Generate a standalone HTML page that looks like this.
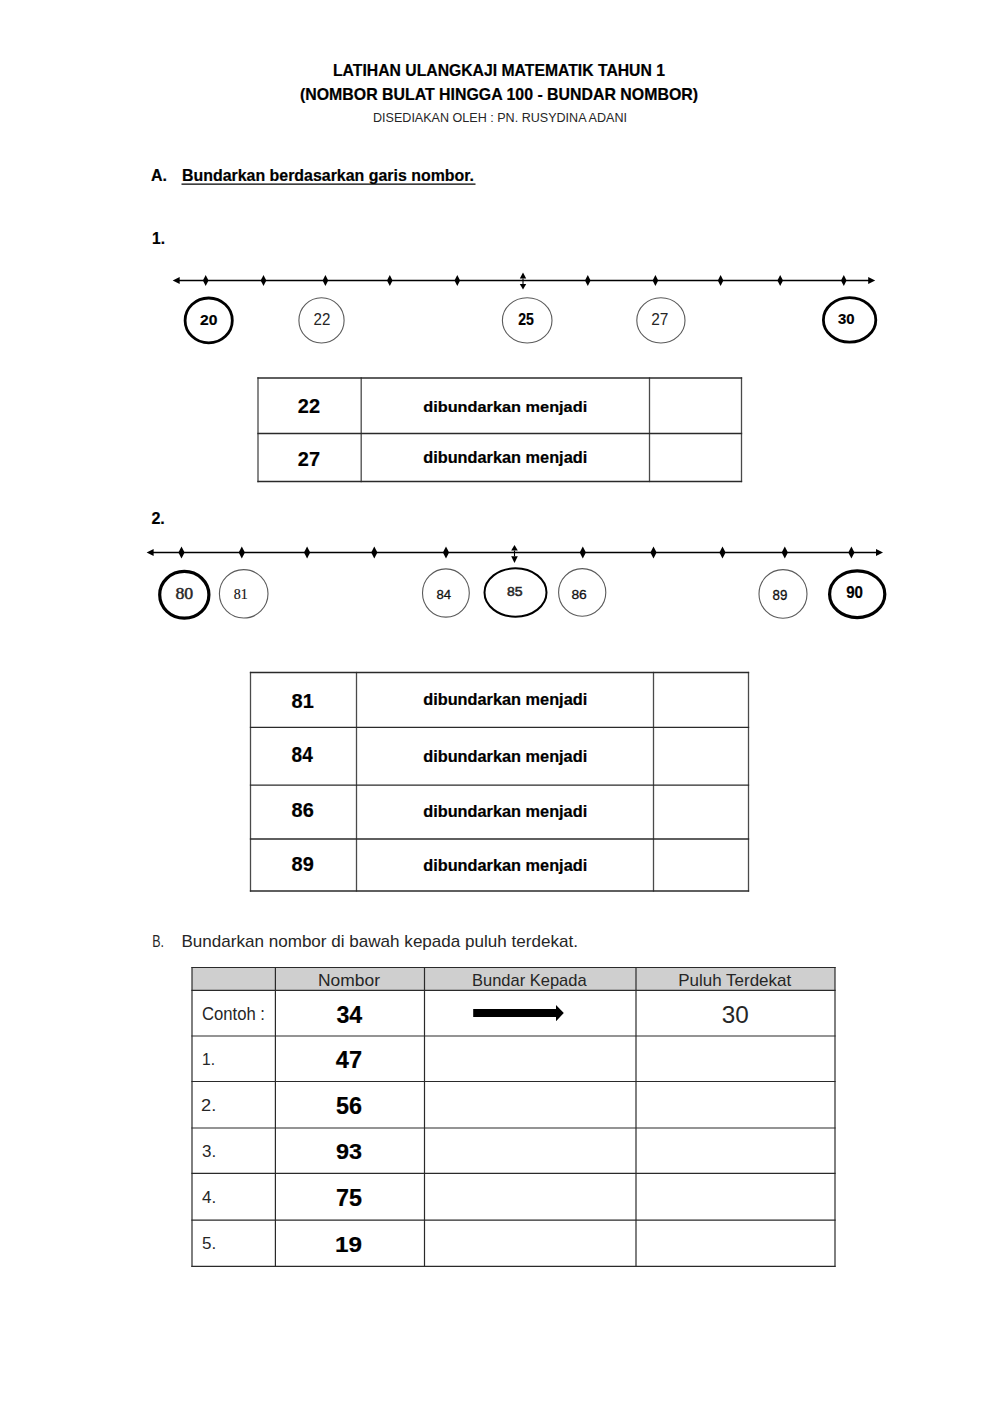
<!DOCTYPE html>
<html><head><meta charset="utf-8"><title>Latihan Ulangkaji Matematik</title>
<style>html,body{margin:0;padding:0;background:#fff;}body{width:1000px;height:1413px;overflow:hidden;font-family:"Liberation Sans",sans-serif;}svg{display:block}</style>
</head><body>
<svg width="1000" height="1413" viewBox="0 0 1000 1413">
<rect width="1000" height="1413" fill="#fff"/>
<rect x="192" y="967.5" width="643" height="22.8" fill="#cfcfcf"/>
<line x1="181.5" y1="184.2" x2="475.5" y2="184.2" stroke="#000" stroke-width="1.3"/>
<g fill="#000">
<line x1="176.7" y1="280.5" x2="871.2" y2="280.5" stroke="#000" stroke-width="1.5"/><path d="M172.7 280.5L179.7 277.1L179.7 283.9Z"/><path d="M875.2 280.5L868.2 277.1L868.2 283.9Z"/><path d="M205.7 275.0L208.5 280.5L205.7 286.0L202.9 280.5Z"/><path d="M263.5 275.0L266.3 280.5L263.5 286.0L260.7 280.5Z"/><path d="M325.4 275.0L328.2 280.5L325.4 286.0L322.6 280.5Z"/><path d="M389.8 275.0L392.6 280.5L389.8 286.0L387.0 280.5Z"/><path d="M457.3 275.0L460.1 280.5L457.3 286.0L454.5 280.5Z"/><path d="M587.8 275.0L590.6 280.5L587.8 286.0L585.0 280.5Z"/><path d="M655.4 275.0L658.2 280.5L655.4 286.0L652.6 280.5Z"/><path d="M720.6 275.0L723.4 280.5L720.6 286.0L717.8 280.5Z"/><path d="M780.2 275.0L783.0 280.5L780.2 286.0L777.4 280.5Z"/><path d="M843.8 275.0L846.6 280.5L843.8 286.0L841.0 280.5Z"/><path d="M523.0 272.4L526.2 278.4L519.8 278.4Z"/><path d="M523.0 289.6L526.2 284.0L519.8 284.0Z"/><line x1="523.0" y1="278.4" x2="523.0" y2="284.0" stroke="#000" stroke-width="1.1"/>
<line x1="150.6" y1="552.5" x2="879.0" y2="552.5" stroke="#000" stroke-width="1.5"/><path d="M146.6 552.5L153.6 549.1L153.6 555.9Z"/><path d="M883.0 552.5L876.0 549.1L876.0 555.9Z"/><path d="M181.5 546.5L184.6 552.5L181.5 558.5L178.4 552.5Z"/><path d="M241.8 546.5L244.9 552.5L241.8 558.5L238.7 552.5Z"/><path d="M307.1 546.5L310.2 552.5L307.1 558.5L304.0 552.5Z"/><path d="M374.3 546.5L377.4 552.5L374.3 558.5L371.2 552.5Z"/><path d="M446.0 546.5L449.1 552.5L446.0 558.5L442.9 552.5Z"/><path d="M582.8 546.5L585.9 552.5L582.8 558.5L579.7 552.5Z"/><path d="M653.5 546.5L656.6 552.5L653.5 558.5L650.4 552.5Z"/><path d="M722.5 546.5L725.6 552.5L722.5 558.5L719.4 552.5Z"/><path d="M784.8 546.5L787.9 552.5L784.8 558.5L781.7 552.5Z"/><path d="M851.4 546.5L854.5 552.5L851.4 558.5L848.3 552.5Z"/><path d="M514.5 545.0L517.8 550.6L511.2 550.6Z"/><path d="M514.5 563.0L517.8 556.2L511.2 556.2Z"/><line x1="514.5" y1="550.6" x2="514.5" y2="556.2" stroke="#000" stroke-width="1.1"/>
</g>
<ellipse cx="208.7" cy="320.4" rx="23.6" ry="22.4" fill="none" stroke="#000" stroke-width="2.8"/>
<ellipse cx="321.5" cy="320.4" rx="22.6" ry="22.6" fill="none" stroke="#5a5a5a" stroke-width="1.1"/>
<ellipse cx="527.2" cy="320.4" rx="24.8" ry="22.6" fill="none" stroke="#5a5a5a" stroke-width="1.1"/>
<ellipse cx="660.9" cy="320.4" rx="24.1" ry="22.6" fill="none" stroke="#5a5a5a" stroke-width="1.1"/>
<ellipse cx="849.6" cy="319.9" rx="26.2" ry="22.3" fill="none" stroke="#000" stroke-width="2.8"/>
<ellipse cx="184.3" cy="594.8" rx="24.6" ry="23.4" fill="none" stroke="#000" stroke-width="3.2"/>
<ellipse cx="243.7" cy="593.8" rx="24.3" ry="24.2" fill="none" stroke="#5a5a5a" stroke-width="1.1"/>
<ellipse cx="445.9" cy="593" rx="23.4" ry="24.1" fill="none" stroke="#5a5a5a" stroke-width="1.1"/>
<ellipse cx="515.5" cy="592.5" rx="31" ry="24.2" fill="none" stroke="#000" stroke-width="2.0"/>
<ellipse cx="582.2" cy="592.4" rx="23.6" ry="23.8" fill="none" stroke="#5a5a5a" stroke-width="1.1"/>
<ellipse cx="783" cy="593.9" rx="24" ry="24.3" fill="none" stroke="#5a5a5a" stroke-width="1.1"/>
<ellipse cx="857.2" cy="594.2" rx="27.6" ry="23.4" fill="none" stroke="#000" stroke-width="3.2"/>
<line x1="258" y1="377.35" x2="258" y2="482.15" stroke="#4a4a4a" stroke-width="1.3"/><line x1="361.2" y1="377.35" x2="361.2" y2="482.15" stroke="#4a4a4a" stroke-width="1.3"/><line x1="649.5" y1="377.35" x2="649.5" y2="482.15" stroke="#4a4a4a" stroke-width="1.3"/><line x1="741.5" y1="377.35" x2="741.5" y2="482.15" stroke="#4a4a4a" stroke-width="1.3"/><line x1="257.35" y1="378" x2="742.15" y2="378" stroke="#2a2a2a" stroke-width="1.3"/><line x1="257.35" y1="433.5" x2="742.15" y2="433.5" stroke="#2a2a2a" stroke-width="1.3"/><line x1="257.35" y1="481.5" x2="742.15" y2="481.5" stroke="#2a2a2a" stroke-width="1.3"/>
<line x1="250.5" y1="671.85" x2="250.5" y2="891.65" stroke="#4a4a4a" stroke-width="1.3"/><line x1="356.5" y1="671.85" x2="356.5" y2="891.65" stroke="#4a4a4a" stroke-width="1.3"/><line x1="653.5" y1="671.85" x2="653.5" y2="891.65" stroke="#4a4a4a" stroke-width="1.3"/><line x1="748.5" y1="671.85" x2="748.5" y2="891.65" stroke="#4a4a4a" stroke-width="1.3"/><line x1="249.85" y1="672.5" x2="749.15" y2="672.5" stroke="#2a2a2a" stroke-width="1.3"/><line x1="249.85" y1="727.3" x2="749.15" y2="727.3" stroke="#2a2a2a" stroke-width="1.3"/><line x1="249.85" y1="785.2" x2="749.15" y2="785.2" stroke="#2a2a2a" stroke-width="1.3"/><line x1="249.85" y1="839" x2="749.15" y2="839" stroke="#2a2a2a" stroke-width="1.3"/><line x1="249.85" y1="891" x2="749.15" y2="891" stroke="#2a2a2a" stroke-width="1.3"/>
<line x1="192" y1="966.90" x2="192" y2="1266.90" stroke="#2a2a2a" stroke-width="1.2"/><line x1="275.4" y1="966.90" x2="275.4" y2="1266.90" stroke="#2a2a2a" stroke-width="1.2"/><line x1="424.5" y1="966.90" x2="424.5" y2="1266.90" stroke="#2a2a2a" stroke-width="1.2"/><line x1="636" y1="966.90" x2="636" y2="1266.90" stroke="#2a2a2a" stroke-width="1.2"/><line x1="835" y1="966.90" x2="835" y2="1266.90" stroke="#2a2a2a" stroke-width="1.2"/><line x1="191.40" y1="967.5" x2="835.60" y2="967.5" stroke="#2a2a2a" stroke-width="1.2"/><line x1="191.40" y1="990.3" x2="835.60" y2="990.3" stroke="#2a2a2a" stroke-width="1.2"/><line x1="191.40" y1="1036" x2="835.60" y2="1036" stroke="#2a2a2a" stroke-width="1.2"/><line x1="191.40" y1="1081.5" x2="835.60" y2="1081.5" stroke="#2a2a2a" stroke-width="1.2"/><line x1="191.40" y1="1128" x2="835.60" y2="1128" stroke="#2a2a2a" stroke-width="1.2"/><line x1="191.40" y1="1173.4" x2="835.60" y2="1173.4" stroke="#2a2a2a" stroke-width="1.2"/><line x1="191.40" y1="1220.2" x2="835.60" y2="1220.2" stroke="#2a2a2a" stroke-width="1.2"/><line x1="191.40" y1="1266.3" x2="835.60" y2="1266.3" stroke="#2a2a2a" stroke-width="1.2"/>
<path d="M473.2 1009H556V1005L563.8 1013L556 1021.2V1017H473.2Z" fill="#000"/>
<g fill="#111">
<text x="333.00" y="76.40" font-family="Liberation Sans" font-weight="bold" fill="#000" stroke="#000" stroke-width="0.2" font-size="16.42" textLength="332.00" lengthAdjust="spacingAndGlyphs">LATIHAN ULANGKAJI MATEMATIK TAHUN 1</text>
<text x="300.00" y="100.40" font-family="Liberation Sans" font-weight="bold" fill="#000" stroke="#000" stroke-width="0.2" font-size="15.99" textLength="398.00" lengthAdjust="spacingAndGlyphs">(NOMBOR BULAT HINGGA 100 - BUNDAR NOMBOR)</text>
<text x="373.00" y="122.00" font-family="Liberation Sans" font-weight="normal" fill="#262626" stroke="#262626" stroke-width="0.0" font-size="13.08" textLength="254.00" lengthAdjust="spacingAndGlyphs">DISEDIAKAN OLEH : PN. RUSYDINA ADANI</text>
<text x="151.00" y="180.90" font-family="Liberation Sans" font-weight="bold" fill="#000" stroke="#000" stroke-width="0.2" font-size="17.15" textLength="16.00" lengthAdjust="spacingAndGlyphs">A.</text>
<text x="182.00" y="180.90" font-family="Liberation Sans" font-weight="bold" fill="#000" stroke="#000" stroke-width="0.2" font-size="17.15" textLength="292.00" lengthAdjust="spacingAndGlyphs">Bundarkan berdasarkan garis nombor.</text>
<text x="152.00" y="243.90" font-family="Liberation Sans" font-weight="bold" fill="#000" stroke="#000" stroke-width="0.2" font-size="16.91" textLength="13.00" lengthAdjust="spacingAndGlyphs">1.</text>
<text x="200.00" y="324.90" font-family="Liberation Sans" font-weight="bold" fill="#000" stroke="#000" stroke-width="0.2" font-size="15.47" textLength="17.40" lengthAdjust="spacingAndGlyphs">20</text>
<text x="313.60" y="325.00" font-family="Liberation Sans" font-weight="normal" fill="#262626" stroke="#262626" stroke-width="0.0" font-size="15.76" textLength="16.80" lengthAdjust="spacingAndGlyphs">22</text>
<text x="518.20" y="325.20" font-family="Liberation Sans" font-weight="bold" fill="#000" stroke="#000" stroke-width="0.2" font-size="15.76" textLength="15.60" lengthAdjust="spacingAndGlyphs">25</text>
<text x="651.20" y="325.00" font-family="Liberation Sans" font-weight="normal" fill="#262626" stroke="#262626" stroke-width="0.0" font-size="16.05" textLength="17.20" lengthAdjust="spacingAndGlyphs">27</text>
<text x="838.00" y="323.90" font-family="Liberation Sans" font-weight="bold" fill="#000" stroke="#000" stroke-width="0.2" font-size="14.76" textLength="16.60" lengthAdjust="spacingAndGlyphs">30</text>
<text x="297.80" y="412.80" font-family="Liberation Sans" font-weight="bold" fill="#000" stroke="#000" stroke-width="0.2" font-size="21.06" textLength="22.20" lengthAdjust="spacingAndGlyphs">22</text>
<text x="297.80" y="466.10" font-family="Liberation Sans" font-weight="bold" fill="#000" stroke="#000" stroke-width="0.2" font-size="21.06" textLength="22.20" lengthAdjust="spacingAndGlyphs">27</text>
<text x="423.20" y="411.70" font-family="Liberation Sans" font-weight="bold" fill="#000" stroke="#000" stroke-width="0.2" font-size="15.45" textLength="164.00" lengthAdjust="spacingAndGlyphs">dibundarkan menjadi</text>
<text x="423.20" y="463.00" font-family="Liberation Sans" font-weight="bold" fill="#000" stroke="#000" stroke-width="0.2" font-size="16.41" textLength="164.00" lengthAdjust="spacingAndGlyphs">dibundarkan menjadi</text>
<text x="151.40" y="524.10" font-family="Liberation Sans" font-weight="bold" fill="#000" stroke="#000" stroke-width="0.2" font-size="16.05" textLength="13.40" lengthAdjust="spacingAndGlyphs">2.</text>
<text x="175.40" y="598.77" font-family="Liberation Serif" font-weight="normal" fill="#262626" stroke="#262626" stroke-width="0.45" font-size="15.94" textLength="17.80" lengthAdjust="spacingAndGlyphs">80</text>
<text x="233.80" y="599.22" font-family="Liberation Serif" font-weight="normal" fill="#111" stroke="#111" stroke-width="0.15" font-size="13.52" textLength="14.00" lengthAdjust="spacingAndGlyphs">81</text>
<text x="436.40" y="598.65" font-family="Liberation Sans" font-weight="normal" fill="#111" stroke="#111" stroke-width="0.3" font-size="13.04" textLength="14.60" lengthAdjust="spacingAndGlyphs">84</text>
<text x="507.00" y="596.45" font-family="Liberation Sans" font-weight="normal" fill="#262626" stroke="#262626" stroke-width="0.5" font-size="12.75" textLength="15.60" lengthAdjust="spacingAndGlyphs">85</text>
<text x="571.40" y="598.65" font-family="Liberation Sans" font-weight="normal" fill="#111" stroke="#111" stroke-width="0.3" font-size="13.04" textLength="15.40" lengthAdjust="spacingAndGlyphs">86</text>
<text x="772.60" y="599.55" font-family="Liberation Sans" font-weight="normal" fill="#111" stroke="#111" stroke-width="0.3" font-size="14.04" textLength="14.80" lengthAdjust="spacingAndGlyphs">89</text>
<text x="846.20" y="598.30" font-family="Liberation Sans" font-weight="bold" fill="#000" stroke="#000" stroke-width="0.2" font-size="15.76" textLength="16.80" lengthAdjust="spacingAndGlyphs">90</text>
<text x="291.60" y="707.50" font-family="Liberation Sans" font-weight="bold" fill="#000" stroke="#000" stroke-width="0.2" font-size="20.49" textLength="22.20" lengthAdjust="spacingAndGlyphs">81</text>
<text x="291.60" y="761.50" font-family="Liberation Sans" font-weight="bold" fill="#000" stroke="#000" stroke-width="0.2" font-size="21.20" textLength="21.20" lengthAdjust="spacingAndGlyphs">84</text>
<text x="291.60" y="817.10" font-family="Liberation Sans" font-weight="bold" fill="#000" stroke="#000" stroke-width="0.2" font-size="20.92" textLength="22.20" lengthAdjust="spacingAndGlyphs">86</text>
<text x="291.60" y="871.10" font-family="Liberation Sans" font-weight="bold" fill="#000" stroke="#000" stroke-width="0.2" font-size="20.63" textLength="22.20" lengthAdjust="spacingAndGlyphs">89</text>
<text x="423.20" y="705.20" font-family="Liberation Sans" font-weight="bold" fill="#000" stroke="#000" stroke-width="0.2" font-size="15.86" textLength="164.00" lengthAdjust="spacingAndGlyphs">dibundarkan menjadi</text>
<text x="423.20" y="761.70" font-family="Liberation Sans" font-weight="bold" fill="#000" stroke="#000" stroke-width="0.2" font-size="16.00" textLength="164.00" lengthAdjust="spacingAndGlyphs">dibundarkan menjadi</text>
<text x="423.20" y="817.40" font-family="Liberation Sans" font-weight="bold" fill="#000" stroke="#000" stroke-width="0.2" font-size="15.72" textLength="164.00" lengthAdjust="spacingAndGlyphs">dibundarkan menjadi</text>
<text x="423.20" y="870.70" font-family="Liberation Sans" font-weight="bold" fill="#000" stroke="#000" stroke-width="0.2" font-size="15.59" textLength="164.00" lengthAdjust="spacingAndGlyphs">dibundarkan menjadi</text>
<text x="152.20" y="947.00" font-family="Liberation Sans" font-weight="normal" fill="#262626" stroke="#262626" stroke-width="0.0" font-size="16.57" textLength="11.80" lengthAdjust="spacingAndGlyphs">B.</text>
<text x="181.40" y="947.00" font-family="Liberation Sans" font-weight="normal" fill="#262626" stroke="#262626" stroke-width="0.0" font-size="16.57" textLength="396.60" lengthAdjust="spacingAndGlyphs">Bundarkan nombor di bawah kepada puluh terdekat.</text>
<text x="318.00" y="985.50" font-family="Liberation Sans" font-weight="normal" fill="#262626" stroke="#262626" stroke-width="0.0" font-size="17.01" textLength="62.00" lengthAdjust="spacingAndGlyphs">Nombor</text>
<text x="472.00" y="985.50" font-family="Liberation Sans" font-weight="normal" fill="#262626" stroke="#262626" stroke-width="0.0" font-size="17.01" textLength="114.60" lengthAdjust="spacingAndGlyphs">Bundar Kepada</text>
<text x="678.20" y="985.50" font-family="Liberation Sans" font-weight="normal" fill="#262626" stroke="#262626" stroke-width="0.0" font-size="17.01" textLength="113.00" lengthAdjust="spacingAndGlyphs">Puluh Terdekat</text>
<text x="202.00" y="1020.00" font-family="Liberation Sans" font-weight="normal" fill="#262626" stroke="#262626" stroke-width="0.0" font-size="17.44" textLength="63.00" lengthAdjust="spacingAndGlyphs">Contoh :</text>
<text x="336.40" y="1022.80" font-family="Liberation Sans" font-weight="bold" fill="#000" stroke="#000" stroke-width="0.2" font-size="24.64" textLength="25.80" lengthAdjust="spacingAndGlyphs">34</text>
<text x="721.80" y="1022.60" font-family="Liberation Sans" font-weight="normal" fill="#262626" stroke="#262626" stroke-width="0.0" font-size="24.64" textLength="27.00" lengthAdjust="spacingAndGlyphs">30</text>
<text x="202.00" y="1065.00" font-family="Liberation Sans" font-weight="normal" fill="#262626" stroke="#262626" stroke-width="0.0" font-size="15.76" textLength="13.00" lengthAdjust="spacingAndGlyphs">1.</text>
<text x="335.80" y="1067.80" font-family="Liberation Sans" font-weight="bold" fill="#000" stroke="#000" stroke-width="0.2" font-size="23.78" textLength="26.20" lengthAdjust="spacingAndGlyphs">47</text>
<text x="201.00" y="1111.00" font-family="Liberation Sans" font-weight="normal" fill="#262626" stroke="#262626" stroke-width="0.0" font-size="17.19" textLength="15.20" lengthAdjust="spacingAndGlyphs">2.</text>
<text x="336.00" y="1113.50" font-family="Liberation Sans" font-weight="bold" fill="#000" stroke="#000" stroke-width="0.2" font-size="23.50" textLength="26.00" lengthAdjust="spacingAndGlyphs">56</text>
<text x="202.00" y="1157.00" font-family="Liberation Sans" font-weight="normal" fill="#262626" stroke="#262626" stroke-width="0.0" font-size="17.19" textLength="14.20" lengthAdjust="spacingAndGlyphs">3.</text>
<text x="336.00" y="1158.90" font-family="Liberation Sans" font-weight="bold" fill="#000" stroke="#000" stroke-width="0.2" font-size="22.64" textLength="26.00" lengthAdjust="spacingAndGlyphs">93</text>
<text x="202.00" y="1203.00" font-family="Liberation Sans" font-weight="normal" fill="#262626" stroke="#262626" stroke-width="0.0" font-size="17.19" textLength="14.20" lengthAdjust="spacingAndGlyphs">4.</text>
<text x="336.00" y="1205.50" font-family="Liberation Sans" font-weight="bold" fill="#000" stroke="#000" stroke-width="0.2" font-size="23.50" textLength="26.00" lengthAdjust="spacingAndGlyphs">75</text>
<text x="202.00" y="1249.00" font-family="Liberation Sans" font-weight="normal" fill="#262626" stroke="#262626" stroke-width="0.0" font-size="17.19" textLength="14.20" lengthAdjust="spacingAndGlyphs">5.</text>
<text x="335.00" y="1251.90" font-family="Liberation Sans" font-weight="bold" fill="#000" stroke="#000" stroke-width="0.2" font-size="22.64" textLength="27.00" lengthAdjust="spacingAndGlyphs">19</text>
</g>
</svg>
</body></html>
